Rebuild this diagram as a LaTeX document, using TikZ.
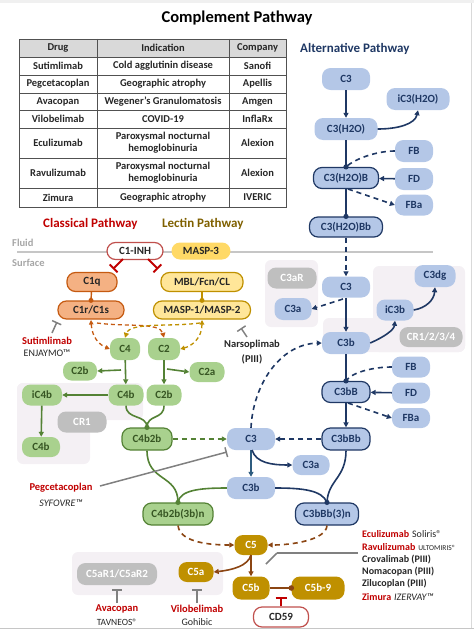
\documentclass[tikz,border=0pt]{standalone}
\usepackage{fontspec}
\setmainfont{Carlito}
\usetikzlibrary{arrows.meta}
\definecolor{navy}{HTML}{1F3864}
\definecolor{bluefill}{HTML}{B4C7E7}
\definecolor{steel}{HTML}{2E5C7F}
\definecolor{gfill}{HTML}{A9D18E}
\definecolor{gdark}{HTML}{548235}
\definecolor{gtext}{HTML}{375623}
\definecolor{ofill}{HTML}{F4B183}
\definecolor{odark}{HTML}{C55A11}
\definecolor{yfill}{HTML}{FFE699}
\definecolor{ydark}{HTML}{BF9000}
\definecolor{ythree}{HTML}{FFD966}
\definecolor{goldf}{HTML}{BF9000}
\definecolor{brownline}{HTML}{8B4513}
\definecolor{grayfill}{HTML}{BFBFBF}
\definecolor{panel}{HTML}{F4F0F4}
\definecolor{redt}{HTML}{C00000}
\definecolor{darkt}{HTML}{262626}
\definecolor{lectin}{HTML}{7F6000}
\definecolor{inhgray}{HTML}{808080}
\definecolor{cred}{HTML}{C0504D}
\tikzset{
  nd/.style={rounded corners=8.5pt, inner sep=0pt, minimum height=21pt,
    font=\bfseries\fontsize{11}{13}\selectfont},
  bl/.style={nd, fill=bluefill, text=navy},
  blb/.style={bl, draw=navy, line width=1.2pt},
  gr/.style={nd, fill=gfill, text=gtext},
  grb/.style={gr, draw=gdark, line width=1.2pt},
  gy/.style={nd, fill=grayfill, text=white},
  orn/.style={nd, fill=ofill, draw=odark, line width=1.2pt, text=darkt},
  yel/.style={nd, fill=yfill, draw=ydark, line width=1.2pt, text=darkt},
  gld/.style={nd, fill=goldf, text=white},
  wr/.style={nd, fill=white, draw=cred, line width=1.2pt, text=darkt},
  lbl/.style={font=\bfseries\fontsize{10.5}{12}\selectfont, inner sep=0pt},
  tb/.style={font=\bfseries\fontsize{10.5}{12}\selectfont, text=darkt, align=center, inner sep=0pt},
  tip/.style={-{Triangle[length=5pt,width=5pt]}},
  tiptwo/.style={{Triangle[length=4.5pt,width=4.5pt]}-{Triangle[length=4.5pt,width=4.5pt]}},
  bline/.style={draw=navy, line width=1.6pt},
  bdash/.style={bline, dash pattern=on 5pt off 4pt},
  gline/.style={draw=gdark, line width=1.6pt},
  gdash/.style={gline, dash pattern=on 5pt off 4pt},
  odash/.style={draw=odark, line width=1.3pt, dash pattern=on 4pt off 3pt},
  ydash/.style={draw=ydark, line width=1.3pt, dash pattern=on 4pt off 3pt},
  brdash/.style={draw=brownline, line width=1.6pt, dash pattern=on 5pt off 4pt},
  inh/.style={draw=inhgray, line width=1.5pt, -{Bar[width=10pt,line width=1.5pt]}},
  rinh/.style={draw=redt, line width=1.8pt, -{Bar[width=11pt,line width=1.8pt]}}
}
\begin{document}
\begin{tikzpicture}[x=1pt,y=-1pt]
\useasboundingbox (0,0) rectangle (474,634);
\fill[gray!12] (0,0) rectangle (474,3);
\draw[gray!45, line width=0.8pt] (0,628) -- (474,628);
\draw[gray!30, line width=0.8pt] (471,3) -- (471,628);

% title
\node[font=\bfseries\fontsize{16.5}{19}\selectfont, text=black] (title) at (237,18) {Complement Pathway};

% table
\fill[gray!30] (19,39) rectangle (286,57);
\draw[darkt!80, line width=0.8pt] (19,39) rectangle (286,207);
\foreach \yy in {57,75,93,110,128,158,188} \draw[darkt!80, line width=0.8pt] (19,\yy) -- (286,\yy);
\foreach \xx in {97,229} \draw[darkt!80, line width=0.8pt] (\xx,39) -- (\xx,207);
\node[tb] (h1) at (58,48) {Drug};
\node[tb] (h2) at (163,48) {Indication};
\node[tb] (h3) at (257.5,48) {Company};
\node[tb] (r1a) at (58,66) {Sutimlimab};
\node[tb] (r1b) at (163,66) {Cold agglutinin disease};
\node[tb] (r1c) at (257.5,66) {Sanofi};
\node[tb] (r2a) at (58,84) {Pegcetacoplan};
\node[tb] (r2b) at (163,84) {Geographic atrophy};
\node[tb] (r2c) at (257.5,84) {Apellis};
\node[tb] (r3a) at (58,101.5) {Avacopan};
\node[tb] (r3b) at (163,101.5) {Wegener’s Granulomatosis};
\node[tb] (r3c) at (257.5,101.5) {Amgen};
\node[tb] (r4a) at (58,119) {Vilobelimab};
\node[tb] (r4b) at (163,119) {COVID-19};
\node[tb] (r4c) at (257.5,119) {InflaRx};
\node[tb] (r5a) at (58,143) {Eculizumab};
\node[tb] (r5b) at (163,143) {Paroxysmal nocturnal\\hemoglobinuria};
\node[tb] (r5c) at (257.5,143) {Alexion};
\node[tb] (r6a) at (58,173) {Ravulizumab};
\node[tb] (r6b) at (163,173) {Paroxysmal nocturnal\\hemoglobinuria};
\node[tb] (r6c) at (257.5,173) {Alexion};
\node[tb] (r7a) at (58,197.5) {Zimura};
\node[tb] (r7b) at (163,197.5) {Geographic atrophy};
\node[tb] (r7c) at (257.5,197.5) {IVERIC};

% panels
\fill[panel, rounded corners=6pt] (17,383) rectangle (143,420);
\fill[panel, rounded corners=6pt] (17,383) rectangle (90,464);
\fill[panel, rounded corners=6pt] (265,260) rectangle (318,327);
\fill[panel, rounded corners=6pt] (373,266) rectangle (465,352);
\fill[panel, rounded corners=6pt] (323,318) rectangle (465,352);
\fill[panel, rounded corners=6pt] (72,552) rectangle (223,595);

% fluid / surface
\draw[gray!45, line width=1.6pt] (17,252) -- (433,252);
\node[anchor=west, font=\bfseries\fontsize{10.5}{12}\selectfont, text=gray!70, inner sep=0pt] (fluid) at (12,243) {Fluid};
\node[anchor=west, font=\bfseries\fontsize{10.5}{12}\selectfont, text=gray!70, inner sep=0pt] (surf) at (12,263) {Surface};

% headings
\node[anchor=west, font=\bfseries\fontsize{13}{15}\selectfont, text=navy, inner sep=0pt] (altp) at (300,49) {Alternative Pathway};
\node[anchor=west, font=\bfseries\fontsize{13}{15}\selectfont, text=redt, inner sep=0pt] (clp) at (43,224) {Classical Pathway};
\node[anchor=west, font=\bfseries\fontsize{13}{15}\selectfont, text=lectin, inner sep=0pt] (lep) at (162,224) {Lectin Pathway};

% alternative pathway (fluid)
\node[bl, minimum width=48pt, minimum height=22pt] (ac3) at (346,79) {C3};
\node[bl, minimum width=63pt, minimum height=22pt] (aic3) at (418,99) {iC3(H2O)};
\node[bl, minimum width=63pt, minimum height=22pt] (ac3h) at (346,129) {C3(H2O)};
\node[bl, minimum width=38pt, minimum height=22pt] (afb) at (414,151) {FB};
\node[blb, minimum width=65pt, minimum height=21pt] (ac3hb) at (346,178) {C3(H2O)B};
\node[bl, minimum width=38pt, minimum height=22pt] (afd) at (414,179) {FD};
\node[bl, minimum width=38pt, minimum height=21pt] (afba) at (414,205) {FBa};
\node[blb, minimum width=73pt, minimum height=20pt] (ac3hbb) at (346,227) {C3(H2O)Bb};

\draw[bline, tip] (ac3) -- (ac3h);
\draw[bline, tip] (ac3h.east) .. controls (398,129) and (415,124) .. (aic3.south);
\draw[bline] (ac3h) -- (ac3hb.north);
\draw[bdash] (afb.west) .. controls (378,151) and (356,158) .. (ac3hb.north);
\fill[navy] (ac3hb.north) circle (2.6pt);
\draw[bline, tip] (afd) -- (ac3hb);
\coordinate (k1) at (348,189);
\draw[bdash, tip] (k1) -- (afba.west);
\draw[bline] (ac3hb) -- (ac3hbb.north);
\fill[navy] (ac3hbb.north) circle (2.6pt);

% alternative pathway (surface)
\node[gy, minimum width=49pt, minimum height=21pt] (c3ar) at (292,278) {C3aR};
\node[bl, minimum width=48pt, minimum height=21pt] (sc3) at (346,287) {C3};
\node[bl, minimum width=37pt, minimum height=22pt] (sc3a) at (293,309) {C3a};
\node[bl, minimum width=37pt, minimum height=21pt] (sic3b) at (395,310) {iC3b};
\node[bl, minimum width=41pt, minimum height=22pt] (sc3dg) at (435,276) {C3dg};
\node[gy, minimum width=63pt, minimum height=20pt] (scr) at (431,337) {CR1/2/3/4};
\node[bl, minimum width=48pt, minimum height=22pt] (sc3b) at (346,343) {C3b};
\node[bl, minimum width=38pt, minimum height=21pt] (sfb) at (411,367) {FB};
\node[blb, minimum width=48pt, minimum height=21pt] (sc3bb) at (346,392) {C3bB};
\node[bl, minimum width=38pt, minimum height=21pt] (sfd) at (411,393) {FD};
\node[bl, minimum width=38pt, minimum height=20pt] (sfba) at (411,418) {FBa};
\node[blb, minimum width=48pt, minimum height=22pt] (c3bbb) at (346,439) {C3bBb};

\draw[bdash, tip] (ac3hbb) -- (sc3);
\draw[bline, tip] (sc3) -- (sc3b);
\coordinate (k2) at (343,299);
\draw[bdash, tip] (k2) -- (sc3a.east);
\draw[bline, tip] (sc3b.east) .. controls (384,337) and (394,330) .. (sic3b.south);
\draw[bline, tip] (sic3b.east) .. controls (426,308) and (434,300) .. (sc3dg.south);
\draw[bline] (sc3b) -- (sc3bb.north);
\draw[bdash] (sfb.west) .. controls (374,367) and (352,372) .. (sc3bb.north);
\fill[navy] (sc3bb.north) circle (2.6pt);
\draw[bline, tip] (sfd) -- (sc3bb);
\coordinate (k3) at (348,403);
\draw[bdash, tip] (k3) -- (sfba.west);
\draw[bline, tip] (sc3bb) -- (c3bbb);

% classical / lectin
\node[wr, minimum width=56pt, minimum height=17pt] (c1inh) at (135,251) {C1-INH};
\node[nd, fill=ythree, text=darkt, minimum width=59pt, minimum height=17pt] (masp3) at (201,251) {MASP-3};
\node[orn, minimum width=50pt, minimum height=19pt] (c1q) at (92,282) {C1q};
\node[orn, minimum width=66pt, minimum height=18pt] (c1rs) at (91,310) {C1r/C1s};
\node[yel, minimum width=82pt, minimum height=19pt] (mbl) at (202,282) {MBL/Fcn/CL};
\node[yel, minimum width=97pt, minimum height=18pt] (masp12) at (202,310) {MASP-1/MASP-2};
\draw[draw=odark, line width=1.4pt] (c1q) -- (c1rs.north);
\fill[odark] (c1rs.north) circle (2.5pt);
\draw[draw=ydark, line width=1.4pt] (mbl) -- (masp12.north);
\fill[ydark] (masp12.north) circle (2.5pt);
\coordinate (t1a) at (123,259);
\coordinate (t1b) at (113,269);
\coordinate (t2a) at (148,259);
\coordinate (t2b) at (158,269);
\draw[rinh] (t1a) -- (t1b);
\draw[rinh] (t2a) -- (t2b);

% green
\node[gr, minimum width=30pt, minimum height=22pt] (c4) at (125,349) {C4};
\node[gr, minimum width=32pt, minimum height=22pt] (c2) at (164,349) {C2};
\node[gr, minimum width=34pt, minimum height=19pt] (c2bl) at (80,371) {C2b};
\node[gr, minimum width=35pt, minimum height=20pt] (c2a) at (207,372) {C2a};
\node[gr, minimum width=35pt, minimum height=21pt] (c4b) at (126,395) {C4b};
\node[gr, minimum width=35pt, minimum height=21pt] (c2br) at (164,395) {C2b};
\node[gr, minimum width=40pt, minimum height=21pt] (ic4b) at (42,395) {iC4b};
\node[gy, minimum width=49pt, minimum height=21pt] (cr1) at (82,422) {CR1};
\node[gr, minimum width=38pt, minimum height=20pt] (c4bl) at (41,447) {C4b};
\node[grb, minimum width=50pt, minimum height=22pt] (c4b2b) at (147,439) {C4b2b};

\coordinate (o1) at (91,320);
\coordinate (o2) at (97,323);
\coordinate (y1) at (200,323);
\coordinate (y2) at (202,320);
\draw[odash, tiptwo] (o1) .. controls (92,338) and (100,345) .. (c4.west);
\draw[odash, tip] (o2) .. controls (125,327) and (160,322) .. (c2.north);
\draw[ydash, tip] (y1) .. controls (170,327) and (130,322) .. (c4.north);
\draw[ydash, tiptwo] (y2) .. controls (202,338) and (192,346) .. (c2.east);

\draw[gline, tip] (c4) -- (c4b);
\coordinate (k4) at (121,370);
\draw[gline, tip] (k4) -- (c2bl.east);
\draw[gline, tip] (c2) -- (c2br);
\coordinate (k5) at (167,369);
\draw[gline, tip] (k5) -- (c2a.west);
\draw[gline, tip] (c4b.west) -- (ic4b.east);
\draw[gline, tip] (ic4b) -- (c4bl);
\draw[gline] (c4b.south) .. controls (126,420) and (147,414) .. (c4b2b.north);
\draw[gline] (c2br.south) .. controls (164,420) and (147,414) .. (c4b2b.north);
\fill[gdark] (c4b2b.north) circle (2.6pt);

% inhibitors (gray)
\coordinate (su1) at (52,333);
\coordinate (su2) at (57,322);
\draw[inh] (su1) -- (su2);
\node[lbl, text=redt] (sut) at (47,341) {Sutimlimab};
\node[inner sep=0pt, font=\fontsize{10}{12}\selectfont, text=darkt] (enj) at (47,353) {ENJAYMO™};
\coordinate (na1) at (247,337);
\coordinate (na2) at (241,328);
\draw[inh] (na1) -- (na2);
\node[lbl, text=darkt] (nar) at (252,345) {Narsoplimab};
\node[lbl, text=darkt] (narp) at (252,359) {(PIII)};

% center
\node[bl, minimum width=48pt, minimum height=22pt] (cc3) at (251,439) {C3};
\node[bl, minimum width=37pt, minimum height=20pt] (cc3a) at (311,465) {C3a};
\node[bl, minimum width=48pt, minimum height=22pt] (cc3b) at (251,488) {C3b};
\node[grb, minimum width=70pt, minimum height=22pt] (c4b2b3) at (178,514) {C4b2b(3b)n};
\node[blb, minimum width=63pt, minimum height=22pt] (c3bbb3) at (327,514) {C3bBb(3)n};

\draw[gdash, tip] (c4b2b) -- (cc3);
\draw[bdash, tip] (c3bbb) -- (cc3);
\draw[bdash, tip] (cc3.north) .. controls (253,385) and (280,344) .. (sc3b.west);
\draw[draw=steel, line width=1.6pt, tip] (cc3) -- (cc3b);
\coordinate (k6) at (252,450);
\draw[bline, tip] (k6) .. controls (256,463) and (272,465) .. (cc3a.west);
\draw[bline] (cc3b.east) .. controls (302,488) and (322,490) .. (c3bbb3.north);
\draw[bline] (c3bbb.south) .. controls (346,478) and (328,480) .. (c3bbb3.north);
\fill[navy] (c3bbb3.north) circle (2.6pt);
\draw[gline] (c4b2b.south) .. controls (147,482) and (178,474) .. (c4b2b3.north);
\draw[gline] (cc3b.west) .. controls (200,488) and (180,490) .. (c4b2b3.north);
\fill[gdark] (c4b2b3.north) circle (2.6pt);

% pegcetacoplan
\coordinate (pg1) at (100,486);
\coordinate (pg2) at (227,452);
\draw[inh] (pg1) -- (pg2);
\node[lbl, text=redt] (peg) at (61,488) {Pegcetacoplan};
\node[inner sep=0pt, font=\itshape\fontsize{10}{12}\selectfont, text=darkt] (syf) at (61,503) {SYFOVRE™};

% C5 part
\node[gld, minimum width=33pt, minimum height=20pt] (c5) at (251,545) {C5};
\node[gld, minimum width=35pt, minimum height=20pt] (c5a) at (196,572) {C5a};
\node[gy, minimum width=80pt, minimum height=22pt] (c5ar) at (117,574) {C5aR1/C5aR2};
\node[gld, minimum width=37pt, minimum height=23pt] (c5b) at (251,588) {C5b};
\node[gld, minimum width=53pt, minimum height=23pt] (c5b9) at (318,588) {C5b-9};
\node[wr, minimum width=55pt, minimum height=20pt] (cd59) at (281,617) {CD59};

\draw[brdash, tip] (c4b2b3.south) .. controls (180,543) and (212,545) .. (c5.west);
\draw[brdash, tip] (c3bbb3.south) .. controls (326,540) and (292,545) .. (c5.east);
\coordinate (k7) at (251,555);
\draw[draw=brownline, line width=1.6pt, tip] (k7) .. controls (248,566) and (232,570) .. (c5a.east);
\draw[draw=brownline, line width=1.6pt, tip] (c5) -- (c5b);
\draw[draw=brownline, line width=1.8pt] (c5b.east) -- (c5b9.west);
\fill[brownline] (c5b9.west) circle (2.8pt);
\coordinate (cdt) at (281,597);
\draw[rinh] (cd59.north) -- (cdt);

\coordinate (av1) at (117,603);
\coordinate (av2) at (117,589);
\draw[inh] (av1) -- (av2);
\coordinate (vi1) at (197,603);
\coordinate (vi2) at (197,589);
\draw[inh] (vi1) -- (vi2);
\node[lbl, text=redt] (ava) at (117,609) {Avacopan};
\node[inner sep=0pt, font=\fontsize{9.5}{11}\selectfont, text=darkt] (tav) at (117,622) {TAVNEOS®};
\node[lbl, text=redt] (vil) at (197,609) {Vilobelimab};
\node[inner sep=0pt, font=\fontsize{10}{12}\selectfont, text=darkt] (goh) at (197,622) {Gohibic};

\coordinate (ec1) at (358,553);
\coordinate (ec2) at (277,553);
\coordinate (ec3) at (266,564);
\draw[draw=inhgray, line width=1.5pt] (ec1) -- (ec2);
\draw[draw=inhgray, line width=1.5pt] (ec2) -- (ec3);

\node[anchor=west, lbl, font=\bfseries\fontsize{10}{12}\selectfont] (ecu) at (362,534) {\textcolor{redt}{Eculizumab}\hspace{3pt}{\mdseries\color{darkt}Soliris®}};
\node[anchor=west, lbl, font=\bfseries\fontsize{10}{12}\selectfont] (rav) at (362,547) {\textcolor{redt}{Ravulizumab}\hspace{3pt}{\mdseries\fontsize{7.5}{9}\selectfont\color{darkt}ULTOMIRIS®}};
\node[anchor=west, lbl, font=\bfseries\fontsize{10}{12}\selectfont, text=darkt] (cro) at (362,560) {Crovalimab (PIII)};
\node[anchor=west, lbl, font=\bfseries\fontsize{10}{12}\selectfont, text=darkt] (nom) at (362,572) {Nomacopan (PIII)};
\node[anchor=west, lbl, font=\bfseries\fontsize{10}{12}\selectfont, text=darkt] (zil) at (362,584) {Zilucoplan (PIII)};
\node[anchor=west, lbl, font=\bfseries\fontsize{10}{12}\selectfont] (zim) at (362,597) {\textcolor{redt}{Zimura}\hspace{3pt}{\mdseries\itshape\color{darkt}IZERVAY™}};
\end{tikzpicture}
\end{document}
